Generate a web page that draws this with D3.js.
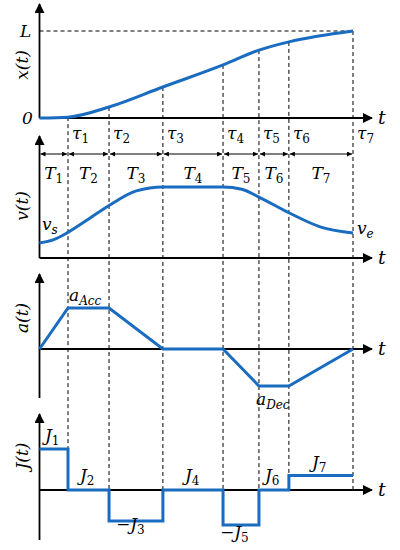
<!DOCTYPE html><html><head><meta charset="utf-8">
<script src="https://cdn.jsdelivr.net/npm/d3@7"></script>
<style>body{margin:0;background:#fff}text{font-family:"DejaVu Serif",serif;font-style:italic;fill:#000}</style>
</head><body><svg id="c" width="400" height="550"></svg>
<script>
const tau=[0,1,2.44,4.33,6.44,7.70,8.75,11.0];
const posVals=[0,0.01,0.126,0.356,0.61,0.78,0.875,1];
const velT=[0,0.5,1,1.7,2.44,3.4,4.33,6.44,7.1,7.70,8.75,9.9,11.0];
const velVals=[0.0,0.06,0.19,0.42,0.67,0.93,1,1,0.96,0.82,0.54,0.28,0.18];
const accVals=[0,1,1,0,0,-1,-1,0];
const jerkVals=[0.62,0,-0.47,0,-0.53,0,0.22];
const blue="#1a6cc0";
const svg=d3.select("#c");
const x=d3.scaleLinear().domain([0,11]).range([39.5,353]);
const yX=d3.scaleLinear().domain([0,1]).range([118,31]);
const yV=d3.scaleLinear().domain([0,1]).range([243,187]);
const yAa=d3.scaleLinear().domain([0,1]).range([349,308]);
const yAd=d3.scaleLinear().domain([0,-1]).range([349,386]);
const ya=v=>v>=0?yAa(v):yAd(v);
const yJ=d3.scaleLinear().domain([0,0.62]).range([490,449]);
const defs=svg.append("defs");
defs.append("marker").attr("id","ar").attr("viewBox","0 0 10 10").attr("refX",9).attr("refY",5).attr("markerWidth",12).attr("markerHeight",10).attr("markerUnits","userSpaceOnUse").attr("orient","auto").append("path").attr("d","M0,0L10,5L0,10z").attr("fill","#000");
defs.append("marker").attr("id","sa").attr("viewBox","0 0 10 10").attr("refX",10).attr("refY",5).attr("markerWidth",6).attr("markerHeight",5).attr("markerUnits","userSpaceOnUse").attr("orient","auto-start-reverse").append("path").attr("d","M0,0L10,5L0,10z").attr("fill","#000");
const dash=(x1,y1,x2,y2)=>svg.append("line").attr("x1",x1).attr("y1",y1).attr("x2",x2).attr("y2",y2).attr("stroke","#000").attr("stroke-width",1).attr("stroke-dasharray","4,3");
dash(x(0),yX(1),x(tau[7]),yX(1));
tau.slice(1).forEach((t,i)=>dash(x(t),yX(posVals[i+1]),x(t),490));
function axes(yTop,yAxis,yBot){
  svg.append("line").attr("x1",x(0)).attr("x2",x(0)).attr("y1",yBot).attr("y2",yTop).attr("stroke","#000").attr("stroke-width",1.8).attr("marker-end","url(#ar)");
  svg.append("line").attr("x1",x(0)).attr("x2",372).attr("y1",yAxis).attr("y2",yAxis).attr("stroke","#000").attr("stroke-width",1.8).attr("marker-end","url(#ar)");
  svg.append("text").attr("x",378).attr("y",yAxis+6).attr("font-size",19).text("t");
}
axes(4,118,118);axes(136,258,258);axes(274,349,398);axes(414,490,540);
const ylab=(t,y)=>svg.append("text").attr("transform",`translate(28,${y}) rotate(-90)`).attr("text-anchor","middle").attr("font-size",17).text(t);
ylab("x(t)",65);ylab("v(t)",206);ylab("a(t)",318);ylab("J(t)",456);
svg.append("text").attr("x",20).attr("y",37).attr("font-size",17).text("L");
svg.append("text").attr("x",22).attr("y",124).attr("font-size",17).attr("font-style","normal").text("0");
tau.slice(0,7).forEach((t,i)=>{
  svg.append("line").attr("x1",x(t)+1).attr("x2",x(tau[i+1])-1).attr("y1",154).attr("y2",154).attr("stroke","#000").attr("stroke-width",1).attr("marker-start","url(#sa)").attr("marker-end","url(#sa)");
  const tx=svg.append("text").attr("x",(x(t)+x(tau[i+1]))/2).attr("y",179).attr("text-anchor","middle").attr("font-size",17).text("T");
  tx.append("tspan").attr("font-size",12).attr("font-style","normal").attr("dy",4).text(i+1);
});
tau.slice(1).forEach((t,i)=>{
  const tx=svg.append("text").attr("x",x(t)+4).attr("y",139).attr("font-size",17).text("τ");
  tx.append("tspan").attr("font-size",12).attr("font-style","normal").attr("dy",4).text(i+1);
});
const path=(pts,curve)=>svg.append("path").attr("d",d3.line().x(d=>d[0]).y(d=>d[1]).curve(curve||d3.curveLinear)(pts)).attr("fill","none").attr("stroke",blue).attr("stroke-width",3);
path(tau.map((t,i)=>[x(t),yX(posVals[i])]),d3.curveMonotoneX);
path(velT.map((t,i)=>[x(t),yV(velVals[i])]),d3.curveMonotoneX);
path(tau.map((t,i)=>[x(t),ya(accVals[i])]));
path(jerkVals.map((j,i)=>[x(tau[i]),x(tau[i+1]),j]).flatMap(d=>[[d[0],yJ(d[2])],[d[1],yJ(d[2])]]));
const sub=(s,b,xx,yy)=>{const t=svg.append("text").attr("x",xx).attr("y",yy).attr("font-size",17).text(s);t.append("tspan").attr("font-size",12).attr("dy",4).text(b);};
sub("v","s",42,230);sub("v","e",357,234);
sub("a","Acc",69,301);sub("a","Dec",256,405);
const jl=(s,b,xx,yy)=>{const t=svg.append("text").attr("x",xx).attr("y",yy).attr("font-size",17).text(s);t.append("tspan").attr("font-size",12).attr("font-style","normal").attr("dy",4).text(b);};
jl("J","1",45,441);jl("J","2",80,481);jl("J","4",185,481);jl("J","6",265,481);jl("J","7",312,468);
jl("−J","3",116,530);jl("−J","5",220,538);
</script></body></html>
